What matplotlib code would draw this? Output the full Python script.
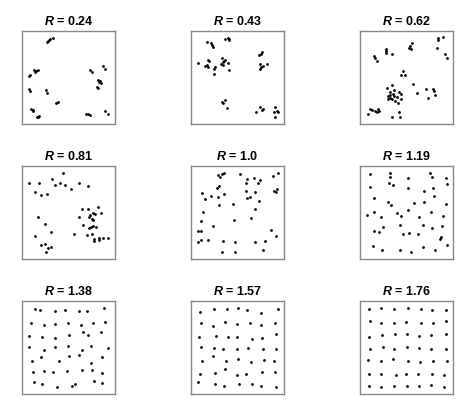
import matplotlib
matplotlib.use('Agg')
import matplotlib.pyplot as plt
import numpy as np

plt.rcParams['font.family'] = ['Liberation Sans', 'DejaVu Sans']
plt.rcParams['mathtext.fontset'] = 'custom'
plt.rcParams['mathtext.bfit'] = 'Liberation Sans:italic:bold'

r_values = ['0.24', '0.43', '0.62', '0.81', '1.0', '1.19', '1.38', '1.57', '1.76']

pts_024 = [(75, 32), (80, 28), (85, 25), (92, 22), (78, 30), (21, 136), (25, 133), (35, 118), (39, 124),
           (43, 121), (48, 116), (21, 176), (25, 180), (72, 179), (74, 186), (103, 216), (107, 213),
           (28, 235), (32, 238), (34, 242), (45, 258), (50, 256), (48, 260), (205, 116), (210, 122),
           (245, 106), (249, 113), (229, 148), (235, 150), (231, 153), (237, 156), (225, 168), (228, 173),
           (192, 250), (198, 250), (205, 253), (251, 241), (259, 251)]
pts_043 = [(47, 33), (59, 36), (62, 43), (65, 48), (102, 23), (112, 20), (115, 28), (113, 25), (20, 95),
           (43, 105), (47, 103), (52, 108), (50, 86), (54, 90), (72, 108), (70, 115), (69, 130), (92, 80),
           (90, 98), (95, 93), (97, 103), (103, 88), (110, 96), (114, 116), (99, 91), (204, 71), (212, 68),
           (215, 63), (209, 98), (212, 108), (217, 104), (229, 100), (207, 113), (92, 213), (95, 218),
           (102, 208), (107, 231), (197, 243), (209, 228), (214, 238), (218, 236), (252, 228), (250, 243),
           (259, 241), (253, 260), (262, 243)]
pts_062 = [(236, 21), (234, 26), (251, 19), (233, 51), (256, 68), (262, 81), (156, 36), (151, 46), (153, 54),
           (149, 51), (77, 54), (79, 61), (77, 66), (96, 68), (43, 76), (46, 81), (51, 91), (129, 119),
           (123, 131), (135, 131), (159, 159), (171, 186), (199, 174), (221, 176), (223, 182), (204, 203),
           (227, 194), (96, 164), (81, 171), (101, 178), (89, 184), (116, 184), (124, 190), (83, 196),
           (91, 194), (101, 196), (111, 198), (85, 204), (96, 206), (106, 211), (123, 206), (91, 201),
           (113, 216), (98, 189), (23, 249), (29, 236), (36, 238), (46, 241), (54, 234), (51, 244),
           (56, 242), (96, 258), (116, 244), (121, 258)]
pts_081 = [(20, 52), (50, 50), (90, 40), (122, 20), (100, 57), (113, 52), (130, 57), (148, 69), (172, 50),
           (200, 59), (38, 79), (57, 87), (75, 84), (48, 155), (68, 175), (88, 200), (40, 210), (58, 237),
           (70, 234), (78, 247), (87, 245), (73, 260), (182, 129), (200, 130), (230, 124), (237, 142),
           (213, 140), (220, 144), (205, 147), (203, 154), (210, 160), (215, 162), (173, 154), (185, 177),
           (207, 184), (203, 187), (213, 180), (222, 184), (157, 205), (197, 207), (210, 205), (218, 219),
           (233, 217), (245, 216), (260, 216), (218, 227), (232, 222)]
pts_100 = [(82, 27), (87, 32), (92, 25), (99, 22), (147, 24), (247, 29), (262, 21), (169, 40), (189, 35),
           (209, 42), (202, 50), (167, 52), (79, 67), (85, 59), (34, 82), (42, 99), (60, 89), (82, 94),
           (100, 84), (165, 74), (192, 79), (169, 97), (179, 92), (205, 104), (249, 74), (259, 69), (257, 79),
           (85, 117), (127, 115), (194, 130), (37, 137), (182, 157), (29, 165), (129, 164), (67, 182),
           (22, 197), (30, 195), (240, 192), (255, 212), (22, 229), (30, 222), (52, 222), (97, 227),
           (132, 230), (192, 229), (222, 225), (92, 260), (132, 260), (217, 254)]
pts_119 = [(31, 25), (89, 20), (89, 32), (86, 52), (98, 57), (146, 35), (146, 65), (211, 20), (218, 34),
           (258, 35), (261, 54), (194, 75), (219, 67), (224, 89), (29, 62), (41, 95), (83, 107), (94, 117),
           (163, 112), (193, 109), (258, 114), (21, 147), (41, 137), (63, 155), (111, 142), (123, 152),
           (146, 132), (179, 154), (214, 139), (249, 152), (121, 179), (68, 185), (41, 197), (56, 199),
           (129, 204), (149, 202), (176, 204), (191, 177), (216, 187), (246, 182), (244, 214), (241, 220),
           (261, 237), (38, 240), (66, 252), (119, 252), (154, 260), (189, 244), (226, 252)]
pts_138 = [(40, 24), (53, 27), (100, 30), (130, 28), (172, 30), (197, 29), (247, 21), (27, 67), (65, 72),
           (100, 70), (137, 67), (177, 72), (213, 67), (250, 63), (20, 105), (60, 107), (100, 111),
           (142, 101), (183, 94), (198, 102), (238, 94), (20, 137), (65, 147), (98, 138), (137, 135),
           (180, 147), (172, 164), (207, 136), (260, 141), (58, 169), (30, 182), (110, 180), (143, 167),
           (208, 187), (242, 170), (33, 214), (65, 211), (93, 214), (135, 211), (180, 209), (212, 207),
           (240, 217), (37, 244), (60, 249), (105, 260), (150, 257), (160, 251), (217, 240), (240, 247)]
pts_157 = [(27, 32), (70, 25), (107, 24), (140, 21), (170, 27), (210, 37), (262, 25), (29, 65), (67, 74),
           (102, 64), (137, 70), (179, 65), (212, 72), (252, 67), (25, 109), (75, 105), (110, 107),
           (137, 109), (185, 114), (214, 112), (257, 99), (30, 137), (70, 140), (97, 144), (139, 144),
           (172, 140), (217, 144), (255, 145), (32, 180), (67, 165), (105, 180), (142, 174), (180, 185),
           (219, 177), (249, 182), (27, 220), (72, 217), (102, 205), (137, 222), (167, 220), (215, 215),
           (252, 215), (20, 245), (72, 250), (100, 255), (145, 249), (184, 250), (210, 257), (257, 260)]
pts_176 = [(28, 24), (63, 22), (101, 23), (144, 20), (183, 25), (216, 27), (258, 26),
           (31, 59), (63, 65), (101, 67), (138, 62), (183, 67), (219, 67), (258, 60),
           (28, 107), (66, 102), (104, 100), (141, 99), (179, 105), (214, 102), (258, 100),
           (31, 145), (68, 139), (101, 144), (141, 139), (178, 140), (213, 145), (259, 144),
           (23, 179), (64, 180), (99, 175), (144, 180), (181, 185), (221, 180), (261, 181),
           (26, 220), (64, 219), (108, 223), (139, 219), (174, 219), (218, 219), (253, 224),
           (28, 255), (63, 259), (101, 257), (141, 255), (179, 257), (214, 254), (254, 260)]

patterns = [pts_024, pts_043, pts_062, pts_081, pts_100, pts_119, pts_138, pts_157, pts_176]

W, H = 474, 412
fig = plt.figure(figsize=(W / 100, H / 100), dpi=100)
col_left = [22, 191, 360]
row_top = [31, 166, 301]
size = 93

for i, (r, pts) in enumerate(zip(r_values, patterns)):
    row, col = divmod(i, 3)
    ax = fig.add_axes([col_left[col] / W, 1 - (row_top[row] + size) / H, size / W, size / H])
    xy = np.array(pts)
    ax.scatter(xy[:, 0], xy[:, 1], s=4, c='black', linewidths=0)
    ax.set_xlim(0, 280)
    ax.set_ylim(280, 0)
    ax.set_xticks([])
    ax.set_yticks([])
    for sp in ax.spines.values():
        sp.set_color('#888888')
        sp.set_linewidth(1.0)
    ax.set_title(r'$\mathbfit{R}$ = ' + r, fontsize=9, fontweight='bold', pad=4)

fig.savefig('out.png', dpi=100)
